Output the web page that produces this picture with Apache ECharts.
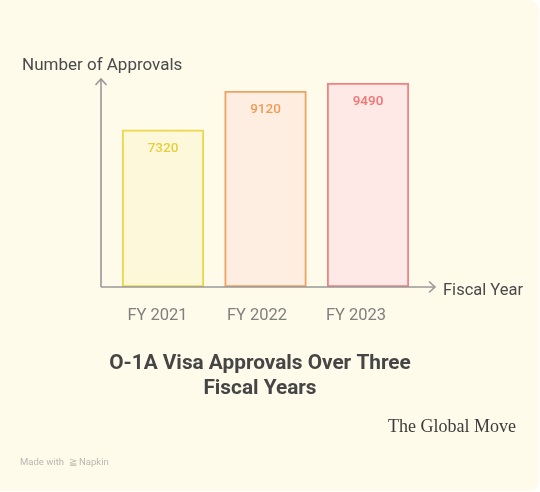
<html>
<head>
    <title>chart</title>
    <script src="https://cdn.jsdelivr.net/npm/echarts@6/dist/echarts.min.js"></script>
</head>
<body style="margin:0;background:#fff;">
    <div id="chart" style="width:540px;height:492px;"></div>
    <script>
        var categories = ["FY 2021", "FY 2022", "FY 2023"];
        var approvals = [7320, 9120, 9490];
        var borderColors = ["#ecd64a", "#f0a260", "#f08282"];
        var fillColors = ["#fef8da", "#feeee1", "#fee9e6"];
        var labelColors = ["#e6cf3e", "#ee9c58", "#ef7474"];
        // labels in the source sit a little left of the bar centres
        var labelShift = [11, 17, 24];

        var chart = echarts.init(document.getElementById('chart'));
        var axisColor = '#999999';

        var option = {
            backgroundColor: '#ffffff',
            animation: false,
            title: {
                text: 'O-1A Visa Approvals Over Three\nFiscal Years',
                left: 255,
                top: 346,
                textAlign: 'center',
                textStyle: {
                    fontFamily: 'Roboto',
                    fontSize: 20.8,
                    fontWeight: 'bold',
                    color: '#454545',
                    lineHeight: 25.5
                }
            },
            grid: {
                left: 111.75,
                right: 120.75,
                top: 80,
                bottom: 205
            },
            xAxis: {
                type: 'category',
                data: categories.map(function (c, i) {
                    return { value: c, textStyle: { padding: [0, labelShift[i], 0, 0] } };
                }),
                axisLine: { show: false },
                axisTick: { show: false },
                axisLabel: {
                    margin: 16,
                    fontFamily: 'Roboto',
                    fontSize: 16.5,
                    color: '#808080'
                }
            },
            yAxis: {
                type: 'value',
                min: 0,
                max: 9630,
                show: false
            },
            series: [{
                type: 'bar',
                barWidth: '80%',
                data: approvals.map(function (v, i) {
                    return {
                        value: v,
                        itemStyle: {
                            color: fillColors[i],
                            borderColor: borderColors[i],
                            borderWidth: 1.8
                        },
                        label: { color: labelColors[i] }
                    };
                }),
                label: {
                    show: true,
                    position: 'insideTop',
                    distance: 8,
                    fontFamily: 'Roboto',
                    fontSize: 13.5,
                    fontWeight: 500
                }
            }],
            graphic: [
                {
                    type: 'rect', z: -10, silent: true,
                    shape: { x: 0, y: 0, width: 539, height: 491, r: [0, 10, 10, 0] },
                    style: { fill: '#fefbea' }
                },
                // y axis with open arrow head
                {
                    type: 'polyline', z: 10,
                    shape: { points: [[101, 287], [101, 79]] },
                    style: { stroke: axisColor, lineWidth: 1.6, fill: null }
                },
                {
                    type: 'polyline', z: 10,
                    shape: { points: [[95.5, 85], [101, 79], [106.5, 85]] },
                    style: { stroke: axisColor, lineWidth: 1.6, fill: null }
                },
                // x axis with open arrow head
                {
                    type: 'polyline', z: 10,
                    shape: { points: [[101, 287], [435, 287]] },
                    style: { stroke: axisColor, lineWidth: 1.6, fill: null }
                },
                {
                    type: 'polyline', z: 10,
                    shape: { points: [[429, 281.5], [435, 287], [429, 292.5]] },
                    style: { stroke: axisColor, lineWidth: 1.6, fill: null }
                },
                {
                    type: 'text', left: 22, top: 52,
                    style: { text: 'Number of Approvals', font: '17px Roboto', fill: '#4a4a4a' }
                },
                {
                    type: 'text', left: 443, top: 278,
                    style: { text: 'Fiscal Year', font: '16.5px Roboto', fill: '#4a4a4a' }
                },
                {
                    type: 'text', left: 388, top: 414,
                    style: { text: 'The Global Move', font: '18px "Liberation Serif", serif', fill: '#3c3c3c' }
                },
                {
                    type: 'text', left: 20, top: 455,
                    style: { text: 'Made with  \u2267 Napkin', font: '9.5px Roboto', fill: '#b8b8b0' }
                }
            ]
        };
        chart.setOption(option);
    </script>
</body>
</html>
